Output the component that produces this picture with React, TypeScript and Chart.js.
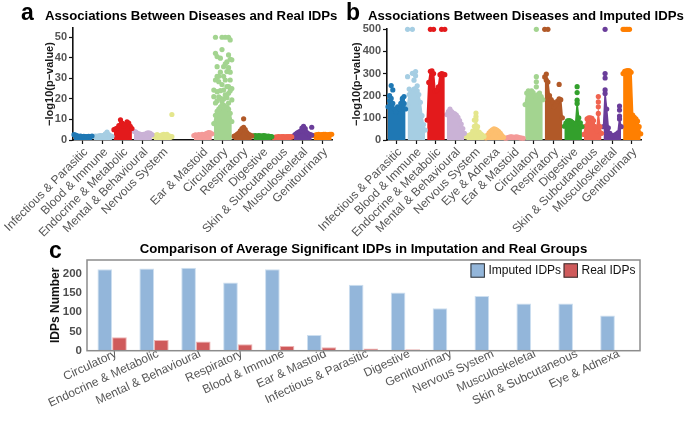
import { useEffect, useRef } from "react";
import { Chart, registerables } from "chart.js";

Chart.register(...registerables);

const FONT = "'Liberation Sans', Arial, Helvetica, sans-serif";

// ICD-10 chapter groups, in genome-order along the Manhattan x axis
const diseaseGroups = [
  "Infectious & Parasitic",
  "Blood & Immune",
  "Endocrine & Metabolic",
  "Mental & Behavioural",
  "Nervous System",
  "Eye & Adnexa",
  "Ear & Mastoid",
  "Circulatory",
  "Respiratory",
  "Digestive",
  "Skin & Subcutaneous",
  "Musculoskeletal",
  "Genitourinary",
];

const groupColors = [
  "#1f78b4",
  "#a6cee3",
  "#e31a1c",
  "#cab2d6",
  "#e4e68c",
  "#fdbf6f",
  "#f49a98",
  "#a3d490",
  "#b15928",
  "#33a02c",
  "#f0634f",
  "#6a3d9a",
  "#ff7f00",
];

// Real IDPs have no Eye & Adnexa associations, so that group has no tick
const realTickGroups = [0, 1, 2, 3, 4, 6, 7, 8, 9, 10, 11, 12];
const imputedTickGroups = [0, 1, 2, 3, 4, 5, 6, 7, 8, 9, 10, 11, 12];

const realAxisTicks = [0, 10, 20, 30, 40, 50];
const imputedAxisTicks = [0, 100, 200, 300, 400, 500];

// -log10(p) of the dense band of IDPs per group, in IDP order (12 slots per group)
const realDense: number[][] = [
  [2.6, 2.4, 2.0, 1.8, 1.9, 1.7, 1.8, 1.7, 1.6, 1.8, 1.7, 1.9],
  [1.8, 1.9, 1.8, 2.0, 2.1, 2.0, 2.3, 3.0, 3.8, 2.6, 2.0, 1.8],
  [5.0, 5.4, 5.8, 7.0, 9.8, 8.2, 6.8, 7.6, 8.8, 8.2, 6.6, 5.6],
  [4.2, 4.0, 3.4, 3.0, 2.8, 2.6, 2.7, 2.9, 3.3, 3.5, 3.2, 2.6],
  [1.8, 2.3, 2.6, 2.2, 2.0, 2.5, 2.8, 2.4, 2.7, 2.0, 1.8, 1.6],
  [],
  [2.2, 2.5, 2.3, 2.6, 2.4, 2.8, 2.6, 2.9, 3.2, 3.6, 3.5, 3.0],
  [8, 12, 14, 15, 16, 17, 17, 16, 16, 15, 13, 9],
  [1.8, 2.2, 2.8, 3.4, 4.5, 5.6, 6.2, 5.0, 3.6, 2.8, 2.4, 2.0],
  [2.0, 2.1, 1.9, 2.2, 2.0, 1.9, 2.1, 2.0, 1.8, 1.9, 1.7, 1.6],
  [1.2, 1.4, 1.5, 1.6, 1.5, 1.7, 1.6, 1.5, 1.6, 1.7, 1.6, 1.5],
  [2.0, 2.8, 3.4, 3.8, 4.2, 4.6, 5.6, 4.4, 3.6, 3.0, 2.6, 2.4],
  [2.2, 2.4, 2.6, 2.7, 2.5, 2.6, 2.8, 2.7, 2.5, 2.6, 2.7, 2.8],
];

// Stand-out associations above the dense band: [IDP slot, -log10(p)]
const realPeaks: [number, number][][] = [
  [],
  [],
  [],
  [],
  [[11, 12.4]],
  [],
  [],
  [
    [1, 50], [5, 50], [7, 50], [9, 50], [10, 48.7],
    [1, 42.2], [2, 40.6], [9, 41.4], [11, 39], [10, 39.3], [4, 39.8],
    [2, 35.7], [6, 35.7], [9, 35.2], [8, 33.3], [5, 44], [8, 38], [7, 37],
    [1, 29.2], [3, 28.4], [7, 29.2], [10, 29.2], [9, 26], [3, 31], [6, 31], [2, 31], [4, 33], [10, 33],
    [0, 24.3], [2, 23.5], [6, 24.3], [9, 22.7], [5, 27], [8, 26], [4, 24], [10, 24], [11, 25],
    [0, 21.1], [4, 20.3], [8, 20.6], [11, 19.5], [7, 22], [3, 21], [6, 20], [2, 19], [5, 19], [9, 18], [1, 18],
  ],
  [[6, 10.3]],
  [],
  [],
  [[6, 6.6], [11, 6.2], [5, 5.8], [7, 5.6]],
  [],
];

const imputedDense: number[][] = [
  [150, 178, 188, 165, 140, 128, 150, 142, 165, 182, 165, 140],
  [160, 205, 215, 222, 230, 232, 222, 205, 170, 110, 70, 45],
  [90, 260, 310, 312, 300, 220, 225, 240, 295, 300, 298, 295],
  [115, 128, 132, 128, 122, 118, 112, 102, 88, 72, 52, 30],
  [15, 20, 22, 26, 40, 62, 92, 60, 36, 28, 22, 16],
  [10, 22, 32, 40, 46, 50, 48, 44, 38, 30, 20, 12],
  [8, 10, 12, 14, 14, 12, 13, 14, 12, 10, 9, 8],
  [160, 212, 222, 218, 222, 214, 200, 192, 205, 212, 196, 182],
  [285, 298, 262, 200, 182, 172, 150, 162, 176, 186, 182, 100],
  [62, 76, 86, 88, 85, 80, 75, 70, 165, 100, 78, 60],
  [25, 62, 95, 100, 100, 98, 88, 60, 42, 120, 60, 30],
  [60, 210, 140, 55, 30, 20, 20, 22, 25, 32, 95, 60],
  [300, 310, 312, 314, 312, 306, 112, 102, 96, 85, 60, 28],
];

const imputedPeaks: [number, number][][] = [
  [[2, 246], [3, 226], [1, 200], [10, 196], [9, 188]],
  [[0, 500], [3, 500], [0, 286], [3, 301], [5, 309], [5, 290], [6, 245], [4, 270], [1, 230]],
  [[2, 500], [4, 500], [9, 500], [11, 500]],
  [[2, 140]],
  [[6, 122], [6, 106], [5, 90]],
  [],
  [],
  [[7, 500], [7, 286], [7, 263], [7, 240]],
  [[0, 500], [2, 500], [9, 251], [1, 270]],
  [[8, 241], [8, 214], [8, 180]],
  [[9, 196], [9, 172], [9, 150]],
  [[1, 500], [1, 300], [1, 280], [1, 226], [10, 153], [10, 135], [10, 108]],
  [[0, 500], [1, 500], [2, 500], [3, 500], [4, 500]],
];

// Average number of significant IDPs per disease group
const barGroups = [
  "Circulatory",
  "Endocrine & Metabolic",
  "Mental & Behavioural",
  "Respiratory",
  "Blood & Immune",
  "Ear & Mastoid",
  "Infectious & Parasitic",
  "Digestive",
  "Genitourinary",
  "Nervous System",
  "Musculoskeletal",
  "Skin & Subcutaneous",
  "Eye & Adnexa",
];
const imputedCounts = [211, 213, 215, 177, 211, 41, 171, 151, 110, 142, 122, 122, 91];
const realCounts = [35, 28, 24, 17, 12, 9, 6, 4, 2, 1.5, 1, 1, 0];
const countTicks = [0, 50, 100, 150, 200];

const BAND = 0.9;
const slotX = (group: number, slot: number, n: number) => group + (slot / (n - 1) - 0.5) * BAND;

function manhattanDatasets(dense: number[][], peaks: [number, number][][]) {
  const sets: any[] = [];
  dense.forEach((vals, g) => {
    const n = vals.length;
    if (!n) return;
    const color = groupColors[g];
    sets.push({
      type: "line",
      data: vals.map((v, k) => ({ x: slotX(g, k, n), y: v })),
      borderColor: color,
      backgroundColor: color,
      fill: "origin",
      borderWidth: 1.5,
      tension: 0,
      pointRadius: 2.6,
      pointBorderWidth: 0,
      pointBackgroundColor: color,
      clip: false,
    });
    if (peaks[g].length) {
      sets.push({
        type: "scatter",
        data: peaks[g].map(([s, v]) => ({ x: slotX(g, s, n), y: v })),
        backgroundColor: color,
        borderWidth: 0,
        pointRadius: 2.6,
        clip: false,
      });
    }
  });
  return sets;
}

const axisInk = "#111";
const tickInk = "#555";

function manhattanConfig(
  dense: number[][],
  peaks: [number, number][][],
  tickGroups: number[],
  yMax: number,
  yTicks: number[],
  padding: { left: number; right: number; top: number; bottom: number },
  yWidth: number
): any {
  const grid = {
    display: true,
    drawOnChartArea: false,
    drawTicks: true,
    tickLength: 4,
    tickColor: axisInk,
    tickWidth: 1.2,
  };
  const border = { display: true, color: axisInk, width: 1.6 };
  return {
    type: "scatter",
    data: { datasets: manhattanDatasets(dense, peaks) },
    options: {
      responsive: false,
      animation: false,
      devicePixelRatio: 1,
      events: [],
      layout: { padding },
      plugins: { legend: { display: false }, tooltip: { enabled: false } },
      scales: {
        x: {
          type: "linear",
          min: -0.5,
          max: 12.5,
          afterBuildTicks: (s: any) => {
            s.ticks = tickGroups.map((v) => ({ value: v }));
          },
          afterFit: (s: any) => {
            s.height = 100;
            s.paddingLeft = 0;
            s.paddingRight = 0;
          },
          ticks: {
            autoSkip: false,
            minRotation: 45,
            maxRotation: 45,
            padding: 1,
            labelOffset: 3,
            color: tickInk,
            font: { family: FONT, size: 12 },
            callback: (v: number) => diseaseGroups[v],
          },
          grid,
          border,
        },
        y: {
          type: "linear",
          min: 0,
          max: yMax,
          afterBuildTicks: (s: any) => {
            s.ticks = yTicks.map((v) => ({ value: v }));
          },
          afterFit: (s: any) => {
            s.width = yWidth;
          },
          ticks: {
            padding: 2,
            color: tickInk,
            font: { family: FONT, size: 11, weight: "bold" },
          },
          grid,
          border,
          title: {
            display: true,
            text: "−log10(p−value)",
            color: "#1a1a1a",
            font: { family: FONT, size: 11, weight: "bold" },
            padding: { top: 3.4, bottom: 0 },
          },
        },
      },
    },
  };
}

const panelFrame = {
  id: "panelFrame",
  afterDatasetsDraw(chart: any) {
    const { ctx, chartArea: a } = chart;
    ctx.save();
    ctx.strokeStyle = "#8c8c8c";
    ctx.lineWidth = 1.5;
    ctx.strokeRect(a.left, a.top, a.right - a.left, a.bottom - a.top);
    ctx.restore();
  },
};

// Horizontal key placed inside the top-right corner of the plot frame
const insideKey = {
  id: "insideKey",
  afterDraw(chart: any) {
    const { ctx, chartArea } = chart;
    const box = 14.4;
    const top = chartArea.top + 3.3;
    let x = chartArea.right - 4.5;
    ctx.save();
    ctx.font = `12px ${FONT}`;
    ctx.textBaseline = "middle";
    ctx.textAlign = "left";
    const sets = chart.data.datasets;
    for (let k = sets.length - 1; k >= 0; k--) {
      const label = sets[k].label as string;
      const w = ctx.measureText(label).width;
      x -= w;
      ctx.fillStyle = "#111";
      ctx.fillText(label, x, top + box / 2 + 0.5);
      x -= 3.5 + box;
      ctx.fillStyle = sets[k].backgroundColor;
      ctx.fillRect(x, top, box, box);
      ctx.strokeStyle = "#333";
      ctx.lineWidth = 1;
      ctx.strokeRect(x + 0.5, top + 0.5, box - 1, box - 1);
      x -= 2.5;
    }
    ctx.restore();
  },
};

function barConfig(): any {
  return {
    type: "bar",
    data: {
      datasets: [
        {
          label: "Imputed IDPs",
          data: imputedCounts.map((v, i) => ({ x: i, y: v })),
          backgroundColor: "#93b6da",
          borderColor: "#cddff0",
          borderWidth: 1,
        },
        {
          label: "Real IDPs",
          data: realCounts.map((v, i) => ({ x: i, y: v })),
          backgroundColor: "#cf5a5b",
          borderColor: "#eeb4b4",
          borderWidth: 1,
        },
      ],
    },
    plugins: [panelFrame, insideKey],
    options: {
      responsive: false,
      animation: false,
      devicePixelRatio: 1,
      events: [],
      layout: { padding: { left: 45, right: 45, top: 260, bottom: 5.3 } },
      datasets: { bar: { categoryPercentage: 0.7, barPercentage: 1 } },
      plugins: { legend: { display: false }, tooltip: { enabled: false } },
      scales: {
        x: {
          type: "linear",
          offset: false,
          min: -0.6,
          max: 12.6,
          afterBuildTicks: (s: any) => {
            s.ticks = barGroups.map((_, i) => ({ value: i }));
          },
          afterFit: (s: any) => {
            s.height = 70;
            s.paddingLeft = 0;
            s.paddingRight = 0;
          },
          ticks: {
            autoSkip: false,
            minRotation: 25,
            maxRotation: 25,
            padding: -4,
            labelOffset: 4,
            color: tickInk,
            font: { family: FONT, size: 12 },
            callback: (v: number) => barGroups[v],
          },
          grid: { display: false, drawTicks: false, offset: false },
          border: { display: false },
        },
        y: {
          min: 0,
          max: 235,
          afterBuildTicks: (s: any) => {
            s.ticks = countTicks.map((v) => ({ value: v }));
          },
          afterFit: (s: any) => {
            s.width = 42;
          },
          ticks: {
            padding: 5,
            color: "#4d4d4d",
            font: { family: FONT, size: 11.5, weight: "bold" },
          },
          grid: { display: false, drawTicks: false },
          border: { display: false },
          title: {
            display: true,
            text: "IDPs Number",
            color: "#111",
            font: { family: FONT, size: 12, weight: "bold" },
            padding: { top: 3.3, bottom: 0 },
          },
        },
      },
    },
  };
}

const realConfig = () =>
  manhattanConfig(realDense, realPeaks, realTickGroups, 54.5, realAxisTicks,
    { left: 40, right: 352.3, top: 28, bottom: 186 }, 33);

const imputedConfig = () =>
  manhattanConfig(imputedDense, imputedPeaks, imputedTickGroups, 504.5, imputedAxisTicks,
    { left: 347, right: 43.3, top: 28.3, bottom: 186 }, 40);

function ChartLayer({ build }: { build: () => any }) {
  const ref = useRef<HTMLCanvasElement>(null);
  useEffect(() => {
    const chart = new Chart(ref.current as HTMLCanvasElement, build());
    return () => chart.destroy();
  }, [build]);
  return (
    <canvas
      ref={ref}
      width={685}
      height={426}
      style={{ position: "absolute", left: 0, top: 0, width: 685, height: 426 }}
    />
  );
}

const letterStyle = (left: number, top: number): React.CSSProperties => ({
  position: "absolute",
  left,
  top,
  font: `bold 23px ${FONT}`,
  lineHeight: "23px",
  color: "#000",
  whiteSpace: "nowrap",
});

const headingStyle = (left: number, top: number): React.CSSProperties => ({
  position: "absolute",
  left,
  top,
  font: `bold 13.2px ${FONT}`,
  lineHeight: "13.2px",
  color: "#000",
  whiteSpace: "nowrap",
});

export default function App() {
  return (
    <div
      style={{
        position: "absolute",
        left: 0,
        top: 0,
        width: 685,
        height: 426,
        background: "#fff",
        overflow: "hidden",
      }}
    >
      <ChartLayer build={realConfig} />
      <ChartLayer build={imputedConfig} />
      <ChartLayer build={barConfig} />
      <div style={letterStyle(21, 0.5)}>a</div>
      <div style={headingStyle(45, 8.8)}>Associations Between Diseases and Real IDPs</div>
      <div style={letterStyle(346, 0.5)}>b</div>
      <div style={headingStyle(368, 8.8)}>Associations Between Diseases and Imputed IDPs</div>
      <div style={letterStyle(49, 239)}>c</div>
      <div style={{ ...headingStyle(87, 241.5), width: 553, textAlign: "center" }}>
        Comparison of Average Significant IDPs in Imputation and Real Groups
      </div>
    </div>
  );
}
